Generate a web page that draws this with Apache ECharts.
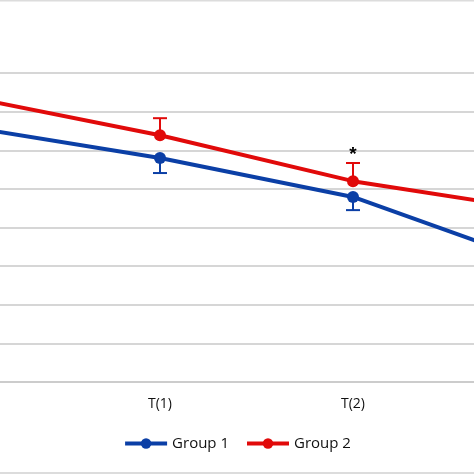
<!DOCTYPE html>
<html>
<head>
<meta charset="utf-8">
<script src="https://cdn.jsdelivr.net/npm/echarts@6/dist/echarts.min.js"></script>
<style>
  html, body { margin: 0; padding: 0; background: #fff; }
  #chart { width: 474px; height: 474px; }
</style>
</head>
<body>
<div id="chart"></div>
<script>
// chart data (y scale 0..80)
var categories = ['T(0)', 'T(1)', 'T(2)', 'T(3)'];
var group1 = [66.1, 58.0, 47.9, 30.1];
var group2 = [73.9, 63.9, 52.0, 44.2];
var group1Err = [3.5, 3.9, 3.4, 3.5];   // drawn below the point
var group2Err = [4.0, 4.4, 4.7, 4.0];   // drawn above the point
var signif = ['', '', '*', ''];
var yTicks = [0, 10, 20, 30, 40, 50, 60, 70, 80];

var blue = '#0b3fa6';
var red = '#e10a0a';

function errData(vals, errs, dir) {
  return vals.map(function (v, i) {
    return [i, v, v + dir * errs[i], signif[i]];
  });
}

function errRender(color, showLabel) {
  return function (params, api) {
    var p0 = api.coord([api.value(0), api.value(1)]);
    var p1 = api.coord([api.value(0), api.value(2)]);
    var cap = 7;
    var style = { stroke: color, lineWidth: 2 };
    var children = [
      { type: 'line', shape: { x1: p0[0], y1: p0[1], x2: p1[0], y2: p1[1] }, style: style },
      { type: 'line', shape: { x1: p1[0] - cap, y1: p1[1], x2: p1[0] + cap, y2: p1[1] }, style: style }
    ];
    var mark = signif[params.dataIndex];
    if (showLabel && mark) {
      children.push({
        type: 'text',
        style: {
          text: mark, x: p1[0], y: p1[1] + 1,
          align: 'center', verticalAlign: 'bottom',
          fill: '#000', font: 'bold 19px "Liberation Sans", sans-serif'
        }
      });
    }
    return { type: 'group', children: children };
  };
}

var chart = echarts.init(document.getElementById('chart'));
var option = {
  animation: false,
  backgroundColor: '#fff',
  graphic: [
    { type: 'line', shape: { x1: 0, y1: 0.5, x2: 474, y2: 0.5 }, style: { stroke: '#dcdcdc', lineWidth: 2 } },
    { type: 'line', shape: { x1: 0, y1: 473, x2: 474, y2: 473 }, style: { stroke: '#dcdcdc', lineWidth: 2 } }
  ],
  grid: {
    left: -33, right: -72, top: 73, bottom: 92,
    containLabel: false,
    outerBoundsMode: 'none'
  },
  legend: {
    bottom: 18,
    left: 'center',
    itemWidth: 42,
    itemHeight: 13,
    itemGap: 16,
    lineStyle: { width: 4 },
    textStyle: { fontFamily: '"Open Sans", sans-serif', fontSize: 15, color: '#111' },
    data: ['Group 1', 'Group 2']
  },
  xAxis: {
    type: 'category',
    boundaryGap: false,
    data: categories,
    axisLine: { lineStyle: { color: '#c8c8c8', width: 1.5 } },
    axisTick: { show: false },
    axisLabel: { margin: 15, fontFamily: '"Open Sans", sans-serif', fontSize: 14, color: '#111' }
  },
  yAxis: {
    type: 'value',
    min: yTicks[0],
    max: yTicks[yTicks.length - 1],
    interval: 10,
    axisLine: { show: false },
    axisTick: { show: false },
    axisLabel: { show: false },
    splitLine: { lineStyle: { color: '#c8c8c8', width: 1.5 } }
  },
  series: [
    {
      name: 'Group 1', type: 'line', data: group1, z: 3,
      symbol: 'circle', symbolSize: 12,
      itemStyle: { color: blue }, lineStyle: { color: blue, width: 4 }
    },
    {
      name: 'Group 2', type: 'line', data: group2, z: 4,
      symbol: 'circle', symbolSize: 12,
      itemStyle: { color: red }, lineStyle: { color: red, width: 4 }
    },
    {
      type: 'custom', name: 'g1err', z: 2,
      renderItem: errRender(blue, false),
      encode: { x: 0, y: [1, 2] },
      data: errData(group1, group1Err, -1)
    },
    {
      type: 'custom', name: 'g2err', z: 2,
      renderItem: errRender(red, true),
      encode: { x: 0, y: [1, 2] },
      data: errData(group2, group2Err, 1)
    }
  ]
};
chart.setOption(option);
</script>
</body>
</html>
